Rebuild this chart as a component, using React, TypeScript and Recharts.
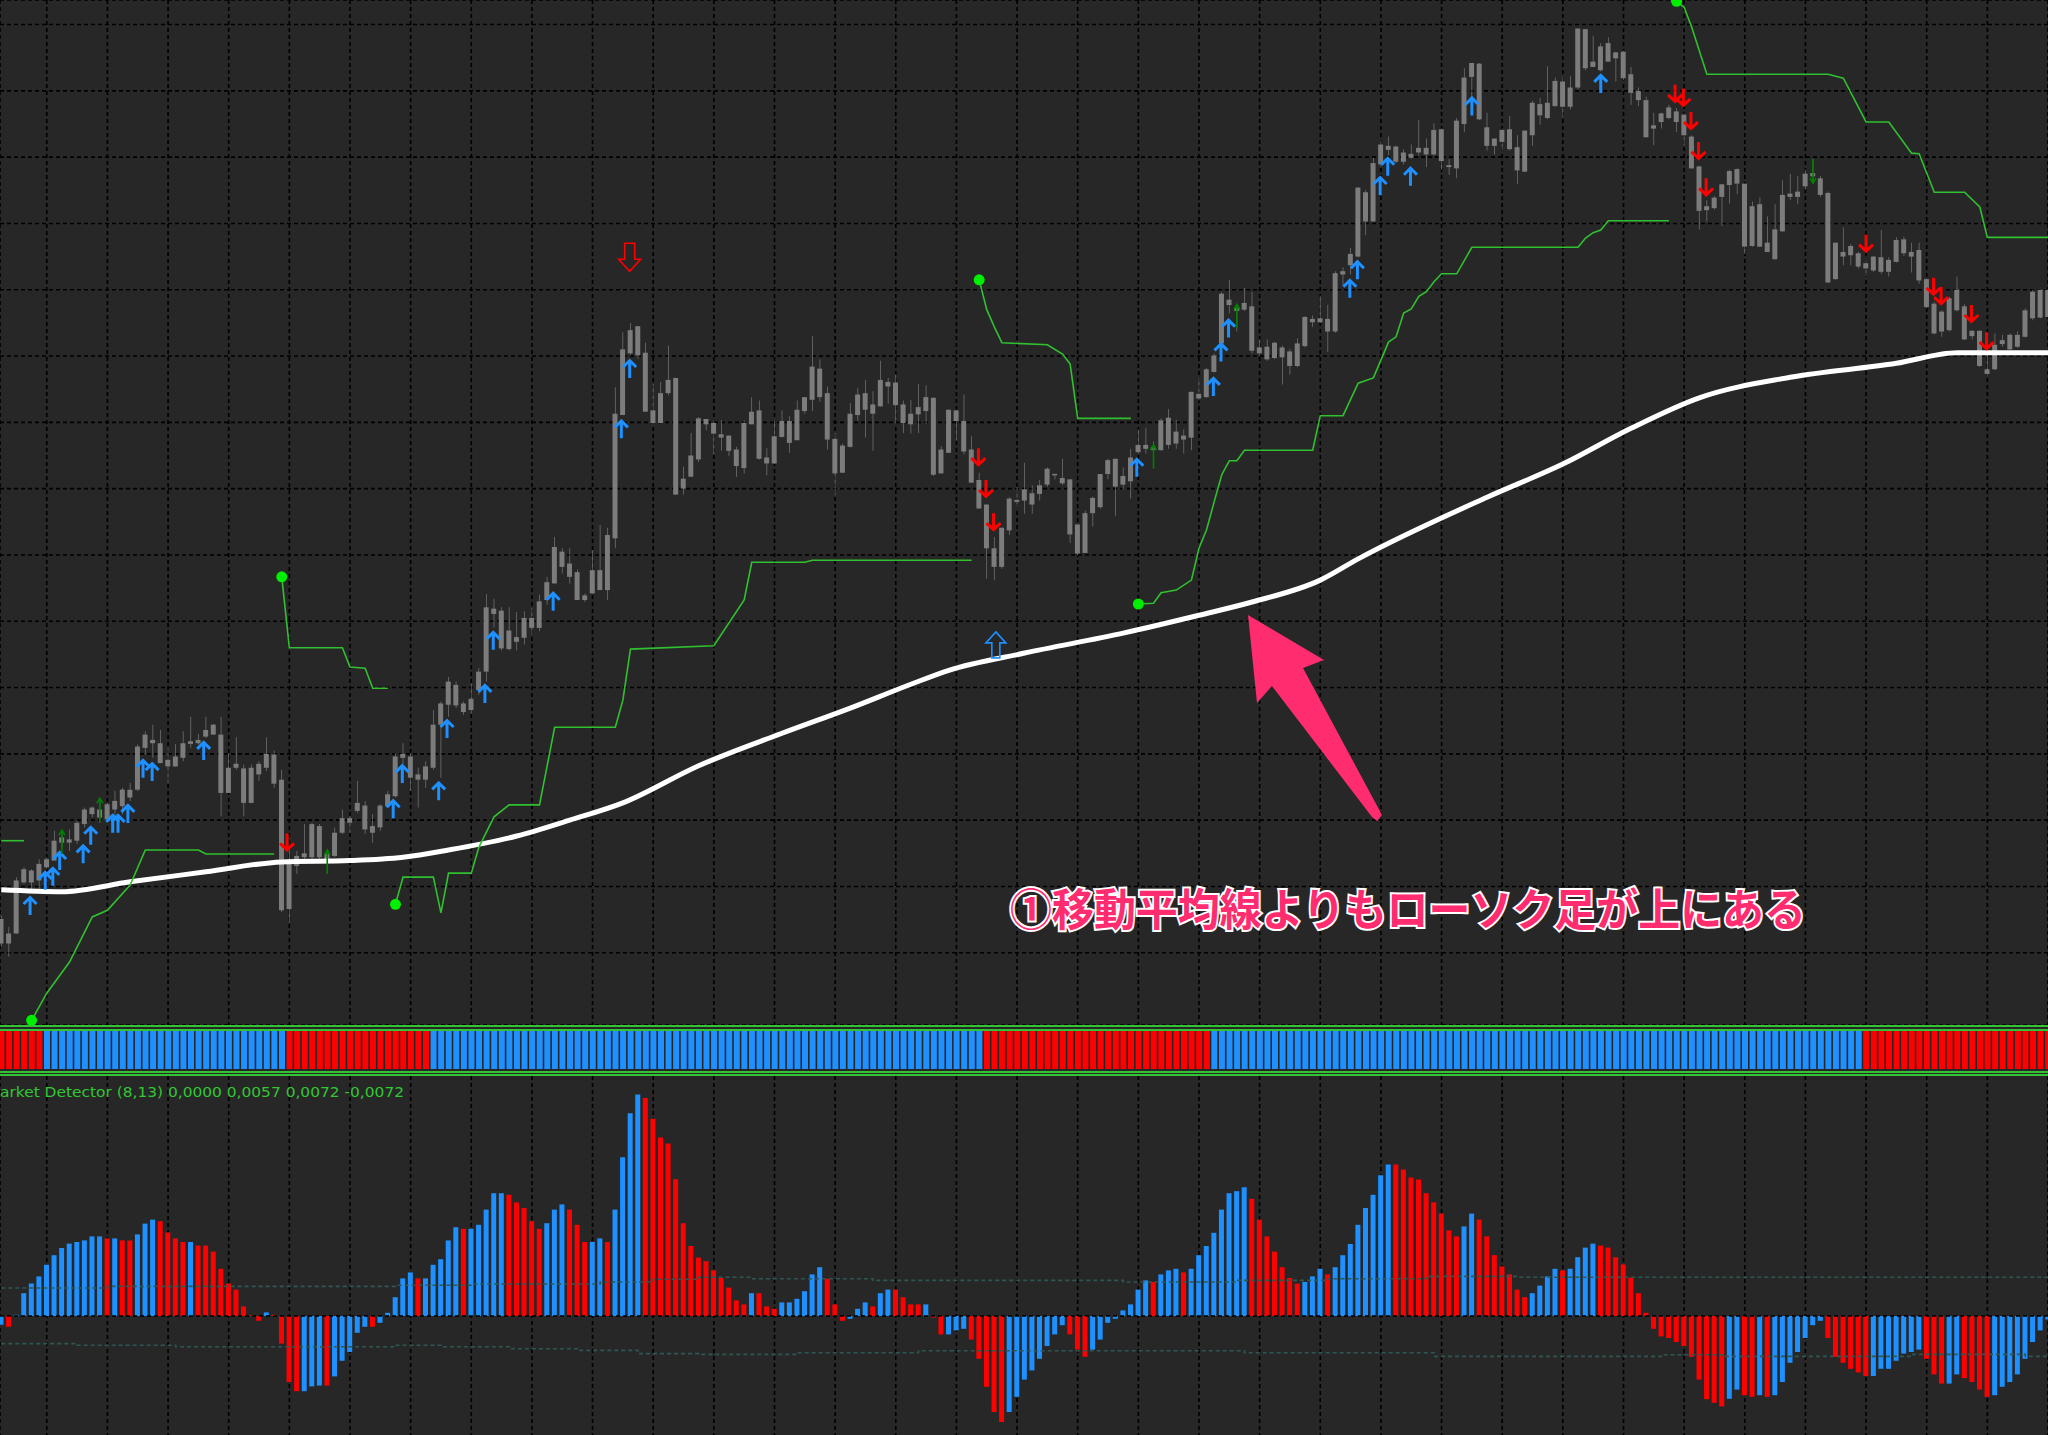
import React from "react";
import {
  ComposedChart,
  Bar,
  Line,
  Scatter,
  XAxis,
  YAxis,
  CartesianGrid,
  ReferenceLine,
  Cell,
} from "recharts";

// chart geometry
const W = 2048;
const MAIN_H = 1025;
const STRIP_H = 38;
const HIST_H = 359;

const X_DOMAIN: [number, number] = [-0.17, 270];
const P_DOMAIN: [number, number] = [-0.9, 153.7];
const H_DOMAIN: [number, number] = [-297.5, 600];

const BG = "#272727";
const CANDLE = "#7c7c7c";
const STOP = "#30c030";
const DOT = "#00ee00";
const BLUE = "#1e90ff";
const RED = "#ff0000";
const DARK_GREEN = "#008000";
const LEVEL = "#2e5753";
const BORDER = "#33c433";
const PINK = "#ff2d6f";

// price candles (one per bar)
const open = [
  15.1, 11.4, 12.9, 22.6, 20.6, 20.9, 22.9, 23.9, 27.4, 26.6,
  26.9, 29.4, 31.9, 30.4, 30.1, 31.6, 32.1, 33.4, 34.6, 42.9,
  42.1, 41.6, 38.1, 38.1, 39.4, 41.5, 41.6, 42.6, 44.4, 42.9,
  34.1, 38.5, 32.6, 32.6, 36.9, 40.0, 39.9, 36.1, 16.6, 23.1,
  24.4, 29.4, 29.1, 24.1, 24.6, 28.1, 29.6, 32.6, 32.2, 28.1,
  28.9, 32.1, 33.6, 40.0, 39.6, 36.1, 36.1, 37.9, 44.4, 47.4,
  50.4, 46.3, 46.6, 49.6, 52.4, 61.9, 61.6, 55.8, 57.6, 57.5,
  60.5, 59.0, 63.2, 65.7, 70.5, 68.7, 67.4, 63.2, 64.2, 67.7,
  64.7, 72.5, 91.1, 100.4, 104.5, 100.5, 89.9, 89.9, 94.4, 96.7,
  80.0, 81.8, 84.4, 90.5, 89.9, 88.2, 88.0, 83.4, 83.1, 89.7,
  91.8, 83.8, 83.8, 87.8, 90.2, 87.3, 91.7, 93.4, 98.1, 94.4,
  87.5, 82.4, 86.3, 91.1, 94.4, 91.3, 92.4, 96.1, 96.0, 92.7,
  89.7, 91.2, 91.7, 93.7, 82.3, 85.4, 91.8, 90.2, 85.9, 81.3,
  77.6, 71.0, 68.2, 73.7, 78.0, 78.2, 79.3, 79.2, 80.6, 82.2,
  81.6, 81.4, 74.6, 70.3, 76.3, 77.2, 82.2, 84.5, 80.6, 81.1,
  85.5, 86.6, 85.8, 85.8, 90.7, 88.6, 87.4, 87.7, 93.6, 93.8,
  97.6, 101.9, 108.5, 106.8, 108.0, 107.5, 100.4, 99.5, 102.0, 101.3,
  98.5, 98.5, 101.5, 105.1, 105.7, 103.7, 103.7, 112.3, 113.7, 115.0,
  120.3, 120.3, 128.9, 131.7, 131.6, 130.7, 129.9, 131.4, 130.4, 130.4,
  134.2, 128.5, 128.3, 135.0, 142.1, 144.1, 134.5, 131.7, 132.3, 134.2,
  131.5, 127.8, 133.3, 138.0, 135.9, 137.7, 141.4, 137.6, 140.5, 149.3,
  143.6, 143.1, 147.2, 145.8, 145.9, 142.5, 140.0, 138.6, 134.3, 135.3,
  137.5, 136.9, 136.4, 133.1, 128.6, 122.0, 122.3, 124.0, 125.8, 128.2,
  126.0, 116.6, 122.9, 115.7, 114.6, 118.8, 124.0, 124.0, 125.6, 127.6,
  126.8, 124.6, 111.6, 115.0, 116.6, 115.5, 113.2, 115.0, 114.9, 112.7,
  114.2, 117.6, 115.7, 116.0, 111.6, 107.9, 103.7, 103.9, 110.0, 107.5,
  103.8, 103.8, 97.3, 98.0, 101.8, 103.2, 101.4, 102.9, 105.7, 110.0, 105.9,
];

const close = [
  11.4, 12.9, 20.9, 20.6, 22.4, 23.4, 24.1, 26.9, 26.6, 27.1,
  29.6, 31.6, 30.9, 31.6, 32.4, 32.9, 34.6, 34.6, 41.1, 40.9,
  41.6, 38.6, 39.1, 39.6, 41.6, 41.9, 42.1, 43.6, 42.9, 34.1,
  37.9, 37.9, 37.8, 37.9, 38.5, 37.9, 35.5, 16.4, 23.6, 24.6,
  25.0, 24.4, 24.4, 24.9, 28.1, 30.3, 30.3, 31.4, 28.6, 29.1,
  32.2, 33.9, 39.6, 39.4, 36.4, 36.9, 38.1, 44.4, 47.6, 50.9,
  47.3, 47.6, 48.3, 52.4, 62.1, 61.1, 55.9, 58.6, 56.9, 60.5,
  59.0, 63.0, 65.9, 71.2, 68.2, 66.7, 63.2, 63.9, 67.7, 64.7,
  73.0, 91.3, 101.0, 103.9, 100.1, 91.6, 91.8, 94.4, 96.4, 79.1,
  81.5, 85.0, 90.6, 89.7, 88.3, 87.7, 85.7, 85.9, 89.9, 91.6,
  84.5, 84.7, 87.9, 90.2, 86.9, 91.9, 93.8, 98.4, 93.8, 87.4,
  82.3, 86.5, 91.3, 94.2, 91.9, 92.7, 96.4, 95.4, 92.6, 89.9,
  91.3, 92.3, 93.8, 82.1, 85.9, 91.9, 90.2, 85.6, 80.9, 77.0,
  71.0, 68.2, 74.1, 78.5, 78.3, 79.9, 77.6, 80.5, 83.0, 82.0,
  80.8, 73.1, 70.2, 76.3, 78.6, 82.2, 84.3, 80.3, 81.9, 84.7,
  86.6, 86.0, 86.3, 90.3, 86.6, 86.8, 88.0, 94.6, 94.3, 98.0,
  100.1, 109.4, 107.7, 107.3, 107.0, 100.8, 101.3, 101.4, 99.7, 99.8,
  100.7, 101.9, 105.9, 105.6, 105.1, 105.6, 112.5, 112.8, 115.4, 125.4,
  124.7, 129.1, 131.9, 131.1, 129.3, 129.3, 130.5, 130.7, 131.4, 134.1,
  129.4, 128.8, 135.5, 142.0, 144.2, 135.7, 131.7, 132.8, 134.1, 131.2,
  128.0, 134.0, 138.2, 136.3, 138.2, 141.5, 137.6, 140.5, 149.4, 143.4,
  144.4, 146.7, 144.4, 144.9, 141.9, 139.7, 138.6, 133.0, 134.8, 136.6,
  135.9, 135.3, 133.3, 128.3, 121.9, 122.6, 123.9, 125.9, 127.9, 126.0,
  116.5, 122.6, 116.5, 117.1, 119.1, 124.3, 124.5, 124.8, 127.5, 127.1,
  124.3, 111.1, 117.1, 115.7, 115.2, 113.5, 114.0, 112.9, 112.7, 114.5,
  117.5, 115.5, 115.0, 111.4, 107.4, 103.4, 106.7, 108.7, 106.9, 102.5,
  103.0, 98.5, 98.0, 101.7, 102.4, 101.0, 103.2, 106.9, 109.7, 105.8, 110.0,
];

const high = [
  15.6, 13.9, 21.4, 22.9, 22.6, 24.1, 24.4, 28.4, 28.3, 28.6,
  29.9, 31.9, 32.1, 33.1, 32.6, 34.4, 34.9, 35.6, 41.4, 43.4,
  44.4, 43.6, 40.9, 41.5, 43.4, 45.6, 43.0, 45.6, 44.5, 45.6,
  40.1, 42.5, 38.4, 38.4, 38.9, 42.5, 40.5, 37.6, 25.9, 25.4,
  29.4, 29.6, 29.4, 25.4, 28.9, 31.6, 30.6, 35.9, 32.9, 30.9,
  32.4, 34.4, 40.1, 41.6, 40.1, 37.9, 38.9, 46.6, 47.9, 51.6,
  50.9, 47.9, 50.6, 52.9, 64.1, 63.4, 62.1, 62.1, 61.4, 61.5,
  62.0, 64.0, 66.7, 72.7, 71.0, 71.0, 67.8, 64.2, 70.7, 74.5,
  74.1, 95.3, 103.6, 105.0, 104.5, 102.0, 95.8, 96.1, 101.6, 96.7,
  83.3, 88.4, 90.8, 90.5, 90.3, 90.3, 88.0, 86.3, 90.3, 93.8,
  93.3, 86.1, 90.3, 91.8, 90.9, 93.3, 93.8, 103.0, 99.5, 95.4,
  88.4, 86.8, 92.9, 95.2, 96.4, 94.7, 99.3, 96.7, 97.2, 93.3,
  93.4, 95.8, 95.6, 93.8, 86.4, 91.9, 91.9, 94.2, 87.9, 82.4,
  77.6, 72.7, 74.1, 78.7, 80.3, 83.9, 80.5, 81.3, 83.2, 82.2,
  84.5, 81.4, 74.6, 76.7, 78.8, 82.2, 84.5, 84.5, 83.2, 86.0,
  88.9, 89.2, 87.1, 90.6, 92.0, 90.4, 88.9, 94.6, 96.7, 98.2,
  100.4, 109.7, 111.5, 107.8, 110.3, 109.7, 102.5, 102.5, 102.1, 101.6,
  101.1, 102.7, 106.0, 106.1, 109.1, 107.7, 112.8, 113.4, 116.3, 125.5,
  125.0, 129.9, 132.5, 133.1, 131.7, 131.2, 131.9, 135.6, 132.8, 135.1,
  134.3, 129.7, 135.9, 143.4, 144.2, 144.2, 136.7, 132.8, 134.3, 136.2,
  133.3, 134.0, 138.5, 138.9, 143.7, 142.0, 142.1, 142.2, 149.4, 149.3,
  148.3, 147.2, 148.1, 145.9, 146.1, 143.6, 140.5, 139.1, 136.7, 136.7,
  137.9, 137.4, 136.6, 133.3, 128.7, 123.5, 124.1, 126.0, 128.1, 128.3,
  126.0, 123.3, 123.9, 121.1, 122.9, 126.5, 127.5, 127.1, 128.1, 129.7,
  127.2, 124.8, 117.1, 119.4, 116.9, 115.7, 114.6, 115.1, 119.0, 114.9,
  117.9, 118.0, 117.1, 117.1, 111.7, 108.2, 106.9, 108.9, 112.0, 107.8,
  103.9, 103.9, 100.9, 103.4, 103.2, 103.4, 103.7, 107.2, 110.0, 110.0, 110.0,
];

const low = [
  10.9, 9.4, 12.9, 20.4, 19.6, 19.6, 22.6, 23.9, 25.9, 25.4,
  26.4, 28.9, 30.4, 29.6, 29.9, 30.4, 30.9, 32.9, 34.4, 39.9,
  39.4, 38.6, 35.6, 38.1, 38.9, 40.9, 41.4, 42.4, 42.9, 30.6,
  34.1, 37.6, 30.6, 32.6, 35.9, 37.4, 34.9, 16.1, 14.6, 21.9,
  24.1, 24.1, 24.1, 22.6, 24.4, 27.9, 28.1, 31.1, 27.9, 26.6,
  28.4, 31.9, 33.4, 36.9, 34.4, 31.9, 34.9, 37.6, 36.4, 45.6,
  46.9, 45.9, 46.1, 48.9, 50.9, 59.1, 55.6, 55.6, 55.6, 56.5,
  58.0, 58.5, 62.5, 65.7, 67.2, 65.7, 63.2, 62.9, 64.2, 64.7,
  63.2, 71.0, 91.1, 100.1, 99.6, 91.6, 89.7, 89.9, 94.1, 79.1,
  79.1, 81.8, 84.0, 88.8, 85.2, 85.7, 84.9, 81.8, 82.3, 89.7,
  84.4, 82.0, 83.7, 87.7, 85.4, 87.3, 91.3, 91.7, 93.1, 85.9,
  79.0, 82.4, 86.2, 90.2, 87.7, 85.7, 92.4, 92.8, 89.8, 88.4,
  88.3, 88.4, 89.7, 81.9, 82.3, 85.4, 87.3, 85.2, 80.9, 77.0,
  66.4, 66.2, 67.9, 73.0, 77.1, 76.2, 76.2, 78.2, 80.3, 81.4,
  80.6, 71.8, 69.9, 70.3, 74.3, 77.0, 81.4, 75.9, 79.8, 78.5,
  85.3, 85.3, 85.3, 85.7, 86.0, 86.0, 85.3, 85.8, 93.3, 93.7,
  97.5, 101.6, 106.4, 103.7, 106.8, 100.4, 100.1, 99.3, 99.5, 95.7,
  97.2, 98.3, 101.3, 104.4, 105.0, 100.6, 103.5, 110.7, 112.3, 114.9,
  118.2, 120.3, 128.6, 130.3, 129.1, 128.9, 129.8, 130.3, 128.5, 130.2,
  128.1, 127.3, 126.8, 133.8, 139.0, 135.6, 131.0, 130.4, 131.0, 131.0,
  126.0, 127.8, 131.7, 134.9, 135.7, 137.6, 136.1, 137.2, 140.2, 143.1,
  143.6, 142.9, 144.4, 141.4, 141.6, 137.9, 137.7, 133.0, 131.8, 134.3,
  135.7, 133.8, 131.8, 128.3, 119.1, 120.3, 122.1, 119.6, 123.0, 124.4,
  115.4, 116.5, 116.4, 115.7, 114.6, 118.8, 123.5, 122.9, 125.1, 126.1,
  124.0, 111.0, 111.5, 113.7, 113.7, 113.2, 112.0, 112.7, 112.4, 112.0,
  114.1, 115.1, 112.6, 110.9, 107.2, 103.3, 102.9, 103.7, 106.7, 102.4,
  102.5, 98.4, 97.1, 97.9, 101.4, 100.9, 101.2, 102.8, 105.4, 105.7, 105.9,
];

// moving average, sampled [bar, value]
const maPoints = [
  [0, 19.5], [8, 19.2], [17, 20.7], [27, 22.2], [37, 23.7], [46, 23.9],
  [53, 24.4], [59, 25.5], [68, 27.6], [75, 30.0], [82, 32.6], [92, 38.2],
  [103, 43.1], [112, 46.9], [120, 50.5], [125, 52.6], [135, 55.2], [148, 58.2],
  [158, 60.9], [165, 62.9], [174, 66.2], [179, 69.4], [196, 78.7], [206, 83.7],
  [215, 89.1], [224, 93.7], [236, 96.8], [250, 98.9], [258, 100.5], [270, 100.5],
];

// trailing stop segments [bar, value]; each after the first starts with a dot
const stop0 = [[0, 26.9], [3, 26.9]];
const stopA = [
  [4, -0.2], [6, 3.9], [9, 8.6], [12, 15.4], [14, 16.4], [17, 20.2],
  [19, 25.5], [26, 25.5], [27, 24.9], [36, 24.9],
];
const stopB = [[37, 66.7], [38, 56.0], [45, 56.0], [46, 53.1], [48, 52.9], [49, 49.9], [51, 49.9]];
const stopC = [
  [52, 17.3], [53, 21.4], [57, 21.4], [58, 16.0], [59, 22.0], [62, 22.0], [63, 25.9],
  [65, 30.5], [67, 32.3], [71, 32.3], [73, 44.0], [81, 44.0], [82, 48.1], [83, 55.8],
  [94, 56.3], [98, 63.2], [99, 68.9], [106, 68.9], [107, 69.2], [128, 69.2],
];
const stopD = [
  [129, 111.5], [130, 107.0], [131, 104.4], [132, 102.0], [138, 101.7],
  [140, 100.3], [141, 98.8], [142, 90.6], [149, 90.6],
];
const stopE = [
  [150, 62.6], [152, 62.7], [153, 64.3], [155, 64.7], [157, 66.2], [158, 71.0],
  [159, 73.8], [160, 78.0], [161, 82.1], [162, 84.2], [163, 84.2], [164, 85.8],
  [173, 85.8], [174, 91.0], [177, 91.0], [179, 95.9], [181, 96.7], [183, 102.1],
  [184, 102.9], [185, 106.5], [186, 107.1], [187, 109.0], [188, 109.7], [189, 111.2],
  [190, 112.4], [192, 112.4], [194, 116.4], [208, 116.4], [209, 117.8], [210, 118.6],
  [211, 119.0], [212, 120.4], [220, 120.4],
];
const stopF = [
  [221, 153.5], [222, 152.6], [223, 149.6], [225, 142.5], [241, 142.5], [243, 141.9],
  [246, 135.3], [249, 135.3], [252, 130.6], [253, 130.5], [255, 124.7], [259, 124.7],
  [261, 122.5], [262, 117.9], [270, 117.9],
];

// signal arrows [bar, price at arrow tip / top]
const buyArrows = [
  [3.8, 18.4], [5.8, 22.2], [6.8, 22.8], [7.7, 25.2], [10.8, 26.2], [11.8, 29.0],
  [14.7, 30.8], [15.4, 30.8], [16.7, 32.3], [18.7, 39.1], [19.9, 38.6], [26.7, 41.8],
  [51.7, 33.0], [52.9, 38.3], [57.7, 35.7], [58.8, 45.1], [63.8, 50.4], [64.9, 58.4],
  [72.8, 64.3], [81.8, 90.3], [82.9, 99.4], [149.8, 84.5], [159.9, 96.7], [160.9, 101.9],
  [161.9, 105.5], [177.9, 111.5], [178.9, 114.3], [181.9, 127.0], [182.9, 129.9],
  [185.9, 128.4], [194.0, 139.0], [211.0, 142.4],
];
const sellArrows = [
  [37.7, 28.0], [128.9, 86.1], [129.9, 81.3], [130.9, 76.3], [220.8, 140.9], [221.9, 140.3],
  [222.9, 136.8], [223.9, 132.3], [224.9, 126.8], [246.0, 118.3], [254.9, 111.8],
  [255.9, 110.4], [259.9, 107.7], [261.9, 103.6],
];
const smallUp = [[8, 28.5], [13, 33.3], [43, 25.5], [152, 86.6], [163, 107.8]];
const smallDown = [[239, 129.7]];
const bigDown = [[82.9, 117.0]];
const bigUp = [[131.2, 58.4]];

// Market Detector histogram, in 0.0001 units, with bar colours (b = blue, r = red)
const detector = [
  -22, -27, 3, 57, 81, 99, 128, 152, 170, 181,
  185, 189, 199, 199, 194, 194, 189, 189, 204, 231,
  241, 237, 209, 194, 185, 185, 176, 176, 161, 118,
  81, 66, 24, 2, -12, 9, 3, -69, -165, -188,
  -188, -176, -174, -174, -151, -112, -90, -42, -27, -27,
  -17, 8, 47, 94, 109, 94, 94, 128, 142, 189,
  222, 218, 218, 228, 266, 307, 307, 303, 284, 270,
  237, 218, 232, 266, 279, 266, 228, 185, 185, 194,
  185, 266, 397, 507, 554, 545, 493, 446, 431, 342,
  232, 175, 146,
  137, 114, 95, 71, 39, 29, 57, 57, 24, 18,
  34, 34, 43, 62, 104, 122, 93, 29, -12, -7,
  18, 34, 24, 57, 66, 66, 47, 29, 29, 29,
  -4, -46, -46, -36, -32, -59, -107, -177, -240, -265,
  -240, -202, -159, -136, -107, -75, -46, -23, -46, -84,
  -102, -84, -59, -17, -7, 14, 29, 66, 89, 85,
  104, 114, 118, 109, 118, 152, 175, 208, 266, 307,
  312, 322, 293, 241, 199, 161, 122, 95, 81, 85,
  99, 118, 104, 122, 152, 180, 228, 270, 303,
  352, 379, 379, 366, 346, 341, 307, 284, 256, 214,
  199, 224, 256, 241, 199, 152, 124, 104, 66, 47,
  57, 76, 99, 118, 114, 118, 147, 171, 181, 176,
  171, 147, 129, 96, 57, 8, -32, -51, -55, -65,
  -75, -102, -159, -208, -217, -226, -207, -184, -198, -202,
  -198, -202, -198, -165, -117, -90, -55, -23, -12, -55,
  -102, -117, -132, -141, -150, -150, -132, -132, -112, -94,
  -90, -84, -107, -146, -169, -169, -146, -155, -165, -184,
  -202, -198, -177, -165, -146, -107, -65, -36, -9,
];
const detectorColors =
  "brbbbbbbbb" + "bbbbrbrrbb" + "brrrrbrrrr" + "rrrrrbrrrr" + "bbbrbbbbbr" +
  "bbbbbrbbbb" + "brbbbbbrrr" + "rrbbbrrrbb" + "rbbbbrrrrr" + "rrr" +
  "rrrrrrbrrr" + "bbbbbbrrrb" + "bbrbbrrrrb" + "rrbbbrrrrr" + "bbbbbbbbrr" +
  "rbbbbbbbbr" + "bbbrbbbbbb" + "bbrrrrrrrb" + "bbrbbbbbb" +
  "bbrrrrrrrr" + "rbbrrrrrrr" + "bbbbrbbbbr" + "rrrrrrrrrr" + "rrrrrrbbrr" +
  "brbbbbbbbr" + "rrrrrbbbbb" + "bbrrrbbrrr" + "rbbbbbbbb";

// signal levels [bar, value], step lines
const levelUp = [
  [0, 70], [14, 74], [52, 77], [62, 80], [79, 85], [86, 92], [92, 97], [99, 93],
  [115, 89], [148, 85], [163, 89], [175, 93], [188, 99], [200, 97], [270, 97],
];
const levelDown = [
  [0, -69], [10, -73], [23, -77], [52, -73], [58, -77], [67, -82], [76, -86], [84, -94],
  [92, -96], [105, -92], [121, -87], [164, -92], [189, -101], [219, -97], [227, -101],
  [252, -96], [267, -101], [270, -101],
];

// trend strip runs: first bar of each run and its colour
const stripStart = [0, 6, 38, 57, 130, 160, 246];
const stripColor = "rbrbrbr";

const gridX = Array.from({ length: 34 }, (_, k) => 6 + 8 * k);
const gridY = Array.from({ length: 16 }, (_, k) => 10 * k);

const stops = [stop0, stopA, stopB, stopC, stopD, stopE, stopF];

const mainRows: any[] = open.map((o, i) => ({
  i,
  wick: [low[i], high[i]],
  body: [Math.min(o, close[i]), Math.max(o, close[i])],
}));
maPoints.forEach(([i, v]) => (mainRows[i].ma = v));
stops.forEach((seg, s) => seg.forEach(([i, v]) => (mainRows[i][`s${s}`] = v)));

const dotData = stops.slice(1).map((seg) => ({ i: seg[0][0], v: seg[0][1] }));
const toPts = (arr: number[][]) => arr.map(([i, v]) => ({ i, v }));

const histRows: any[] = detector.map((v, i) => ({ i, v }));
levelUp.forEach(([i, v]) => (histRows[i].up = v));
levelDown.forEach(([i, v]) => (histRows[i].dn = v));

const stripRows = open.map((_, i) => {
  let run = 0;
  stripStart.forEach((s, k) => {
    if (i >= s) run = k;
  });
  return { i, one: 1, col: stripColor[run] };
});

const colorOf = (ch: string) => (ch === "b" ? BLUE : RED);

const BuyShape = ({ cx, cy }: any) => (
  <path
    d={`M${cx} ${cy + 18} V${cy + 1} M${cx - 6.5} ${cy + 7} L${cx} ${cy + 0.5} L${cx + 6.5} ${cy + 7}`}
    stroke={BLUE}
    strokeWidth={3}
    fill="none"
  />
);
const SellShape = ({ cx, cy }: any) => (
  <path
    d={`M${cx} ${cy} V${cy + 17} M${cx - 7} ${cy + 10} L${cx} ${cy + 16.5} L${cx + 7} ${cy + 10}`}
    stroke={RED}
    strokeWidth={3}
    fill="none"
  />
);
const SmallUpShape = ({ cx, cy }: any) => (
  <path
    d={`M${cx} ${cy + 24} V${cy} M${cx - 3} ${cy + 5} L${cx} ${cy} L${cx + 3} ${cy + 5}`}
    stroke={DARK_GREEN}
    strokeWidth={1.6}
    fill="none"
  />
);
const SmallDownShape = ({ cx, cy }: any) => (
  <path
    d={`M${cx} ${cy} V${cy + 24} M${cx - 3} ${cy + 19} L${cx} ${cy + 24} L${cx + 3} ${cy + 19}`}
    stroke={DARK_GREEN}
    strokeWidth={1.6}
    fill="none"
  />
);
const BigDownShape = ({ cx, cy }: any) => (
  <path
    d={`M${cx - 5} ${cy} H${cx + 5} V${cy + 16} H${cx + 11} L${cx} ${cy + 28} L${cx - 11} ${cy + 16} H${cx - 5} Z`}
    stroke={RED}
    strokeWidth={1.6}
    fill="none"
  />
);
const BigUpShape = ({ cx, cy }: any) => (
  <path
    d={`M${cx} ${cy} L${cx + 10} ${cy + 11} H${cx + 4} V${cy + 26} H${cx - 4} V${cy + 11} H${cx - 10} Z`}
    stroke={BLUE}
    strokeWidth={1.6}
    fill="none"
  />
);
const DotShape = ({ cx, cy }: any) => <circle cx={cx} cy={cy} r={5.5} fill={DOT} />;

const margin = { top: 0, right: 0, bottom: 0, left: 0 };

function MainPanel() {
  return (
    <ComposedChart width={W} height={MAIN_H} data={mainRows} margin={margin}>
      <XAxis dataKey="i" type="number" domain={X_DOMAIN} ticks={gridX} allowDataOverflow hide />
      <XAxis xAxisId="body" dataKey="i" type="number" domain={X_DOMAIN} allowDataOverflow hide />
      <YAxis type="number" domain={P_DOMAIN} ticks={gridY} allowDataOverflow hide />
      <CartesianGrid stroke="#000" strokeDasharray="4 3" strokeWidth={1.6} />
      <Bar dataKey="wick" barSize={1.4} fill={CANDLE} isAnimationActive={false} />
      <Bar xAxisId="body" dataKey="body" barSize={5} fill={CANDLE} minPointSize={1.5} isAnimationActive={false} />
      <Line
        dataKey="ma"
        type="monotone"
        stroke="#ffffff"
        strokeWidth={5}
        dot={false}
        activeDot={false}
        connectNulls
        isAnimationActive={false}
      />
      {stops.map((_, s) => (
        <Line
          key={s}
          dataKey={`s${s}`}
          type="linear"
          stroke={STOP}
          strokeWidth={1.6}
          dot={false}
          activeDot={false}
          connectNulls
          isAnimationActive={false}
        />
      ))}
      <Scatter data={dotData} dataKey="v" shape={<DotShape />} isAnimationActive={false} />
      <Scatter data={toPts(buyArrows)} dataKey="v" shape={<BuyShape />} isAnimationActive={false} />
      <Scatter data={toPts(sellArrows)} dataKey="v" shape={<SellShape />} isAnimationActive={false} />
      <Scatter data={toPts(smallUp)} dataKey="v" shape={<SmallUpShape />} isAnimationActive={false} />
      <Scatter data={toPts(smallDown)} dataKey="v" shape={<SmallDownShape />} isAnimationActive={false} />
      <Scatter data={toPts(bigDown)} dataKey="v" shape={<BigDownShape />} isAnimationActive={false} />
      <Scatter data={toPts(bigUp)} dataKey="v" shape={<BigUpShape />} isAnimationActive={false} />
    </ComposedChart>
  );
}

function StripPanel() {
  return (
    <ComposedChart width={W} height={STRIP_H} data={stripRows} margin={margin}>
      <XAxis dataKey="i" type="number" domain={X_DOMAIN} allowDataOverflow hide />
      <YAxis type="number" domain={[0, 1]} hide />
      <Bar dataKey="one" barSize={6} isAnimationActive={false}>
        {stripRows.map((r) => (
          <Cell key={r.i} fill={colorOf(r.col)} />
        ))}
      </Bar>
    </ComposedChart>
  );
}

function HistPanel() {
  return (
    <ComposedChart width={W} height={HIST_H} data={histRows} margin={margin}>
      <XAxis dataKey="i" type="number" domain={X_DOMAIN} ticks={gridX} allowDataOverflow hide />
      <YAxis type="number" domain={H_DOMAIN} allowDataOverflow hide />
      <CartesianGrid horizontal={false} stroke="#000" strokeDasharray="4 3" strokeWidth={1.6} />
      <ReferenceLine y={0} stroke="#000" strokeDasharray="4 3" strokeWidth={1.6} />
      <Bar dataKey="v" barSize={5} isAnimationActive={false}>
        {histRows.map((r) => (
          <Cell key={r.i} fill={colorOf(detectorColors[r.i])} />
        ))}
      </Bar>
      <Line
        dataKey="up"
        type="stepAfter"
        stroke={LEVEL}
        strokeWidth={1.6}
        strokeDasharray="4 3"
        dot={false}
        activeDot={false}
        connectNulls
        isAnimationActive={false}
      />
      <Line
        dataKey="dn"
        type="stepAfter"
        stroke={LEVEL}
        strokeWidth={1.6}
        strokeDasharray="4 3"
        dot={false}
        activeDot={false}
        connectNulls
        isAnimationActive={false}
      />
    </ComposedChart>
  );
}

const abs = (top: number, height: number): React.CSSProperties => ({
  position: "absolute",
  left: 0,
  top,
  width: W,
  height,
});

export default function App() {
  return (
    <div style={{ position: "absolute", left: 0, top: 0, width: W, height: 1435, background: BG, overflow: "hidden" }}>
      <div style={abs(0, MAIN_H)}>
        <MainPanel />
      </div>
      <svg style={{ ...abs(0, MAIN_H), pointerEvents: "none" }} width={W} height={MAIN_H}>
        <polygon
          points="1248,615 1324,660 1303,668 1382,815 1377,821 1372,817 1272,686 1257,703"
          fill={PINK}
        />
        <text
          x={1010}
          y={926}
          fontSize={44}
          fontWeight={700}
          fontFamily="'Noto Sans CJK JP', sans-serif"
          fill={PINK}
          stroke="#ffffff"
          strokeWidth={4}
          paintOrder="stroke"
          textLength={796}
          lengthAdjust="spacingAndGlyphs"
        >
          ①移動平均線よりもローソク足が上にある
        </text>
      </svg>
      <div style={{ ...abs(1025, 2), background: BORDER }} />
      <div style={{ ...abs(1028.5, 2), background: BORDER }} />
      <div style={abs(1031, STRIP_H)}>
        <StripPanel />
      </div>
      <div style={{ ...abs(1070.5, 2), background: BORDER }} />
      <div style={{ ...abs(1074, 2), background: BORDER }} />
      <div style={abs(1076, HIST_H)}>
        <HistPanel />
      </div>
      <svg style={{ ...abs(1076, 30), pointerEvents: "none" }} width={W} height={30}>
        <text
          x={0}
          y={21}
          fontSize={14}
          fontFamily="'DejaVu Sans', sans-serif"
          fill="#32c832"
          textLength={404}
          lengthAdjust="spacingAndGlyphs"
        >
          arket Detector (8,13) 0,0000 0,0057 0,0072 -0,0072
        </text>
      </svg>
    </div>
  );
}
